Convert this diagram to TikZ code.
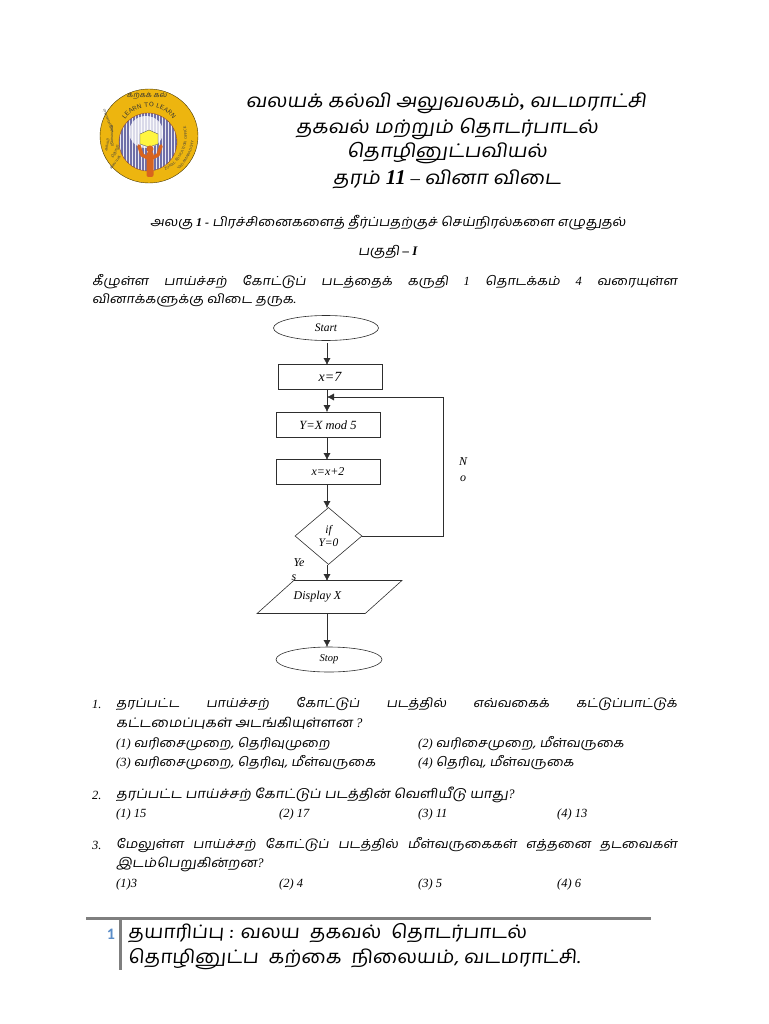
\documentclass[tikz,border=0pt]{standalone}
\usepackage{fontspec}
\usepackage{xcolor}
\usepackage{tikz}
\usetikzlibrary{arrows.meta, calc, shapes.geometric, decorations.text}
\setmainfont{Liberation Serif}
\newfontfamily\tamilfont[Script=Tamil,FakeSlant=0.15,FakeStretch=1.12]{Hind Madurai}
\newfontfamily\footfont[Script=Tamil,FakeSlant=0.08,FakeStretch=1.1]{Hind Madurai}
\newfontfamily\numfont{Carlito}
\newcommand{\ta}[1]{{\tamilfont #1}}
\definecolor{ringyellow}{HTML}{EDB50F}
\definecolor{personorange}{HTML}{D8641E}
\definecolor{stripeblue}{HTML}{6F6FA8}
\definecolor{rulegray}{HTML}{7F7F7F}
\definecolor{numblue}{HTML}{5B8DC8}
\definecolor{flowgray}{HTML}{2E2E2E}
\tikzset{
  flowbox/.style={draw=flowgray, semithick, minimum width=104pt, minimum height=25pt, inner sep=0pt, font=\fontsize{12.5}{14}\selectfont\itshape},
  flowoval/.style={draw=flowgray, semithick, ellipse, minimum width=105pt, minimum height=25pt, inner sep=0pt, font=\fontsize{11}{13}\selectfont\itshape},
  flowlink/.style={draw=flowgray, -{Latex[length=7pt,width=7pt]}},
  headline/.style={anchor=center, font=\fontsize{18.8}{23}\selectfont},
  textline/.style={anchor=west, inner sep=0pt, font=\fontsize{12.5}{15}\selectfont\itshape},
  smalllabel/.style={inner sep=0pt, font=\fontsize{12}{14}\selectfont\itshape},
  ringword/.style={inner sep=0pt, text=black!75, font=\fontsize{3.8}{5}\tamilfont},
}
\begin{document}
\begin{tikzpicture}[x=1pt, y=-1pt]
\useasboundingbox (0,0) rectangle (768,1024);
% logo
\fill[ringyellow, draw=black!70!ringyellow] (149,136) ellipse (49 and 47);
\begin{scope}
\clip (148,142) circle (29);
\fill[stripeblue!15] (119,113) rectangle (177,171);
\foreach \i in {0,...,19} {
  \draw[stripeblue, line width=1.5pt] ({119+3*\i},113) -- ({119+3*\i},171);
}
\fill[white, opacity=0.75] (146,132) ellipse (17 and 16);
\end{scope}
\draw[personorange!70!black] (148,142) circle (29);
\fill[personorange, rounded corners=2pt] (146.5,152) rectangle (153.5,177);
\draw[personorange, line width=3.5pt, line join=round, line cap=round] (139,146) -- (142,155) -- (150,159) -- (158,155) -- (161,146);
\fill[yellow!75!white, draw=black!60, line width=0.4pt] (140,134) -- (149,130) -- (158,134) -- (158,144) -- (149,147) -- (140,144) -- cycle;
\fill[personorange] (150,149) circle (3.5);
\path[decorate, decoration={text along path, text align=center, text={|\fontsize{6.3}{7}\selectfont\sffamily\color{black!80}|LEARN TO LEARN}}]
  (124.4,120.6) arc (212:328:29);
\node[inner sep=0pt, text=black!80, font=\fontsize{7}{8}\tamilfont] (logotop) at (147,96) {கற்கக் கல்};
\path[decorate, decoration={text along path, text align=center, text={|\fontsize{3.8}{5}\selectfont\sffamily\color{black!75}|ZONAL EDUCATION OFFICE}}]
  (162,171.7) arc (70:-20:38);
\path[decorate, decoration={text along path, text align=center, text={|\fontsize{3.8}{5}\selectfont\sffamily\color{black!75}|VADAMARADCHY}}]
  (171.5,175) arc (60:-5:45);
\foreach \word/\ang [count=\k] in {வலயக்/218, கல்வி/192, அலுவலகம்/160} {
  \node[ringword, rotate={270-\ang}] (ringleft\k) at ({149+43*cos(\ang)},{136-43*sin(\ang)}) {\word};
}
\foreach \word/\ang [count=\k] in {தொழி/205, நிலையம்/180} {
  \node[ringword, rotate={270-\ang}] (ringinner\k) at ({149+37*cos(\ang)},{136-37*sin(\ang)}) {\word};
}
% heading
\node[headline] (headone) at (446,103) {\ta{வலயக் கல்வி அலுவலகம்}\textbf{\textit{,}} \ta{வடமராட்சி}};
\node[headline] (headtwo) at (447,129) {\ta{தகவல் மற்றும் தொடர்பாடல்}};
\node[headline] (headthree) at (447,153) {\ta{தொழினுட்பவியல்}};
\node[headline] (headfour) at (447,179) {\ta{தரம்} \textbf{\textit{\fontsize{21}{24}\selectfont 11}} – \ta{வினா விடை}};
\node[anchor=center, font=\fontsize{12.7}{15}\selectfont] (unit) at (388,223) {\ta{அலகு} \textbf{\textit{\large 1 -}} \ta{பிரச்சினைகளைத் தீர்ப்பதற்குச் செய்நிரல்களை எழுதுதல்}};
\node[anchor=center, font=\fontsize{13}{15}\selectfont] (part) at (388,252) {\ta{பகுதி} \textbf{\textit{– I}}};
\node[textline] (introone) at (92,282) {\makebox[585pt][s]{\ta{கீழுள்ள}\hfill\ta{பாய்ச்சற்}\hfill\ta{கோட்டுப்}\hfill\ta{படத்தைக்}\hfill\ta{கருதி}\hfill 1\hfill\ta{தொடக்கம்}\hfill 4\hfill\ta{வரையுள்ள}}};
\node[textline] (introtwo) at (92,300) {\ta{வினாக்களுக்கு விடை தருக.}};
% flowchart
\node[flowoval, font=\fontsize{11.5}{13}\selectfont\itshape] (start) at (326,328) {Start};
\node[flowbox, font=\fontsize{14}{16}\selectfont\itshape] (xseven) at (330,377) {x=7};
\node[flowbox] (ymod) at (328,425) {Y=X mod 5};
\node[flowbox, font=\fontsize{12}{14}\selectfont\itshape] (xadd) at (328,472) {x=x+2};
\node[draw=flowgray, semithick, diamond, minimum width=67pt, minimum height=57pt, inner sep=0pt, align=center, font=\fontsize{11.5}{13}\selectfont\itshape] (ifzero) at (328.5,536) {\raisebox{-2pt}{if}\\\raisebox{-2pt}{Y=0}};
\node[draw=flowgray, semithick, trapezium, trapezium left angle=42, trapezium right angle=138, minimum width=145pt, minimum height=32pt, inner sep=0pt, font=\fontsize{12}{14}\selectfont\itshape] (display) at (329.5,597) {\hspace*{-24pt}Display X};
\node[flowoval, minimum width=106pt, font=\fontsize{10.5}{13}\selectfont\itshape] (stop) at (329,659.5) {Stop};
\coordinate (merge) at (327,397);
\coordinate (loopbottom) at (443.5,536);
\coordinate (looptop) at (443.5,397);
\coordinate (startgap) at (327,343);
\coordinate (xsevenin) at (327,365);
\coordinate (xsevenout) at (327,389);
\coordinate (ymodin) at (327,412);
\coordinate (ymodout) at (327,437);
\coordinate (xaddin) at (327,460);
\coordinate (xaddout) at (327,485);
\coordinate (ifin) at (327,508);
\coordinate (ifout) at (327,565);
\coordinate (displayin) at (327,581);
\coordinate (displayout) at (327,613);
\coordinate (stopin) at (327,647);
\draw[flowlink] (startgap) -- (xsevenin);
\draw[flowlink] (xsevenout) -- (ymodin);
\draw[flowlink] (ymodout) -- (xaddin);
\draw[flowlink] (xaddout) -- (ifin);
\draw[flowlink] (ifout) -- (displayin);
\draw[flowlink] (displayout) -- (stopin);
\draw[flowlink] (ifzero.east) -- (loopbottom) -- (looptop) -- (merge);
\node[smalllabel] (labeln) at (463,462) {N};
\node[smalllabel] (labelo) at (463,479) {o};
\node[smalllabel] (labelye) at (299,563) {Ye};
\node[smalllabel] (labels) at (294,578) {s};
% questions
\node[textline] (qone) at (92,704) {1.};
\node[textline] (qonea) at (116,704) {\makebox[561pt][s]{\ta{தரப்பட்ட}\hfill\ta{பாய்ச்சற்}\hfill\ta{கோட்டுப்}\hfill\ta{படத்தில்}\hfill\ta{எவ்வகைக்}\hfill\ta{கட்டுப்பாட்டுக்}}};
\node[textline, font=\fontsize{13.2}{15}\selectfont\itshape] (qoneb) at (116,723) {\ta{கட்டமைப்புகள் அடங்கியுள்ளன} ?};
\node[textline] (aone) at (116,744) {(1) \ta{வரிசைமுறை, தெரிவுமுறை}};
\node[textline] (atwo) at (418,744) {(2) \ta{வரிசைமுறை, மீள்வருகை}};
\node[textline] (athree) at (116,763) {(3) \ta{வரிசைமுறை, தெரிவு, மீள்வருகை}};
\node[textline] (afour) at (418,763) {(4) \ta{தெரிவு, மீள்வருகை}};
\node[textline] (qtwo) at (92,795) {2.};
\node[textline, font=\fontsize{13}{15}\selectfont\itshape] (qtwoa) at (116,795) {\ta{தரப்பட்ட பாய்ச்சற் கோட்டுப் படத்தின் வெளியீடு யாது}?};
\node[textline] (bone) at (116,814) {(1) 15};
\node[textline] (btwo) at (279,814) {(2) 17};
\node[textline] (bthree) at (418,814) {(3) 11};
\node[textline] (bfour) at (557,814) {(4) 13};
\node[textline] (qthree) at (92,845) {3.};
\node[textline] (qthreea) at (116,845) {\makebox[561pt][s]{\ta{மேலுள்ள}\hfill\ta{பாய்ச்சற்}\hfill\ta{கோட்டுப்}\hfill\ta{படத்தில்}\hfill\ta{மீள்வருகைகள்}\hfill\ta{எத்தனை}\hfill\ta{தடவைகள்}}};
\node[textline, font=\fontsize{13}{15}\selectfont\itshape] (qthreeb) at (116,864) {\ta{இடம்பெறுகின்றன}?};
\node[textline] (cone) at (116,884) {(1)3};
\node[textline] (ctwo) at (279,884) {(2) 4};
\node[textline] (cthree) at (418,884) {(3) 5};
\node[textline] (cfour) at (557,884) {(4) 6};
% footer
\coordinate (ruleleft) at (86,918);
\coordinate (ruleright) at (651,918);
\coordinate (ruletop) at (120,918);
\coordinate (rulebottom) at (120,970);
\draw[rulegray, line width=3pt] (ruleleft) -- (ruleright);
\draw[rulegray, line width=3pt] (ruletop) -- (rulebottom);
\node[anchor=center, inner sep=0pt, text=numblue, font=\fontsize{16}{18}\numfont\bfseries] (pagenum) at (111,934) {1};
\node[anchor=west, inner sep=0pt, font=\fontsize{18.6}{22}\footfont] (footone) at (128,933) {தயாரிப்பு : வலய \ தகவல் \ தொடர்பாடல்};
\node[anchor=west, inner sep=0pt, font=\fontsize{18.6}{22}\footfont] (foottwo) at (128,959) {தொழினுட்ப \ கற்கை \ நிலையம், வடமராட்சி.};
\end{tikzpicture}
\end{document}
